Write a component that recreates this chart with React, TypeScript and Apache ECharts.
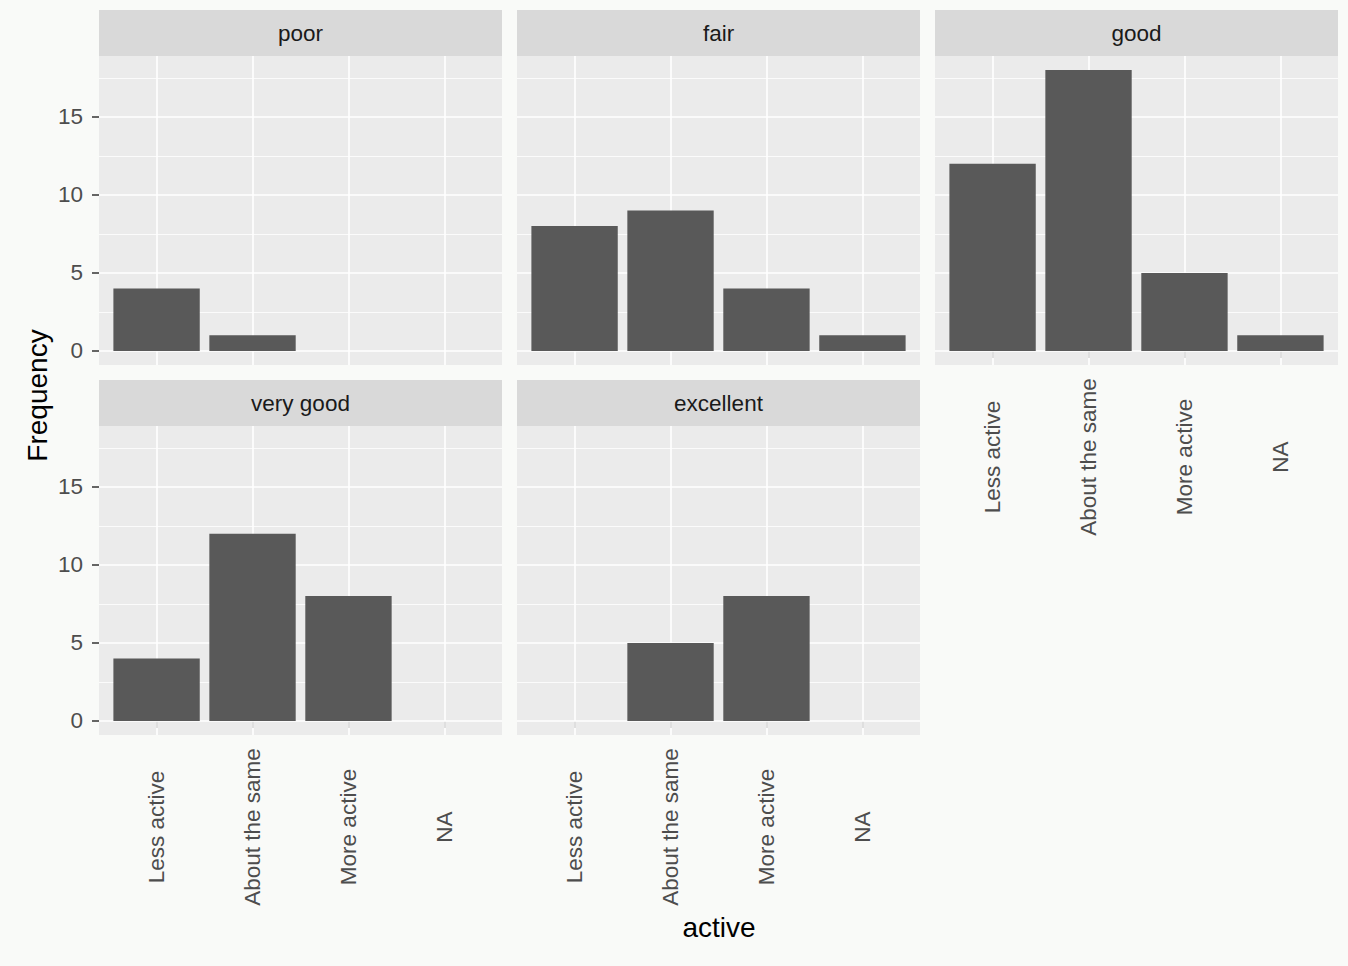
import React, { useEffect, useRef } from 'react';
import * as echarts from 'echarts';

const activityLevels = ['Less active', 'About the same', 'More active', 'NA'];
const healthLevels = ['poor', 'fair', 'good', 'very good', 'excellent'];

// counts per activity level, one array per health facet
const poorCounts = [4, 1, 0, 0];
const fairCounts = [8, 9, 4, 1];
const goodCounts = [12, 18, 5, 1];
const veryGoodCounts = [4, 12, 8, 0];
const excellentCounts = [0, 5, 8, 0];

const yTicks = [0, 5, 10, 15];
const yMinorTicks = [2.5, 7.5, 12.5, 17.5];

const panelCounts = [poorCounts, fairCounts, goodCounts, veryGoodCounts, excellentCounts];

// facet layout (pixels)
const colLeft = [99, 517, 935];
const rowStripTop = [10, 380];
const panelW = 403;
const stripH = 46;
const panelH = 309;

// ggplot-style expanded ranges
const xMin = 0.4;
const xMax = 4.6;
const yMin = -0.9;
const yMax = 18.9;

const FONT = '"Liberation Sans", Arial, sans-serif';

const App: React.FC = () => {
  const chartRef = useRef<HTMLDivElement>(null);

  useEffect(() => {
    if (!chartRef.current) return;
    const chart = echarts.init(chartRef.current, null, { renderer: 'svg' });

    const xPositions = activityLevels.map((_, k) => k + 1);
    const barWidth = (0.9 * panelW) / (xMax - xMin);

    const grids: any[] = [];
    const xAxes: any[] = [];
    const yAxes: any[] = [];
    const series: any[] = [];
    const graphics: any[] = [];

    healthLevels.forEach((name, i) => {
      const col = i % 3;
      const row = Math.floor(i / 3);
      const left = colLeft[col];
      const stripTop = rowStripTop[row];
      const top = stripTop + stripH;
      const showX = i >= 2; // facets with nothing below them
      const showY = col === 0;

      grids.push({
        left,
        top,
        width: panelW,
        height: panelH,
        show: true,
        backgroundColor: '#EBEBEB',
        borderWidth: 0,
        containLabel: false,
        outerBoundsMode: 'none'
      });

      xAxes.push({
        gridIndex: i,
        type: 'value',
        min: xMin,
        max: xMax,
        axisLine: { show: false },
        splitLine: { show: false },
        axisTick: {
          show: showX,
          customValues: xPositions,
          length: 7,
          lineStyle: { color: '#333333', width: 1.5 }
        },
        axisLabel: {
          show: showX,
          customValues: xPositions,
          formatter: (v: number) => activityLevels[Math.round(v) - 1] ?? '',
          rotate: 90,
          align: 'center',
          verticalAlign: 'middle',
          margin: 92,
          fontSize: 22.5,
          color: '#4D4D4D'
        }
      });

      yAxes.push({
        gridIndex: i,
        type: 'value',
        min: yMin,
        max: yMax,
        axisLine: { show: false },
        splitLine: { show: false },
        axisTick: {
          show: showY,
          customValues: yTicks,
          length: 7,
          lineStyle: { color: '#333333', width: 1.5 }
        },
        axisLabel: {
          show: showY,
          customValues: yTicks,
          margin: 16,
          fontSize: 22.5,
          color: '#4D4D4D'
        }
      });

      series.push({
        type: 'bar',
        xAxisIndex: i,
        yAxisIndex: i,
        z: 2,
        barWidth,
        itemStyle: { color: '#595959' },
        data: panelCounts[i].map((c, k) => [k + 1, c]).filter((d) => d[1] > 0),
        markLine: {
          silent: true,
          symbol: 'none',
          z: 1,
          animation: false,
          label: { show: false },
          emphasis: { disabled: true },
          lineStyle: { color: '#FFFFFF', type: 'solid', width: 1.6 },
          data: [
            ...yMinorTicks.map((v) => ({ yAxis: v, lineStyle: { color: '#FFFFFF', type: 'solid', width: 0.8 } })),
            ...yTicks.map((v) => ({ yAxis: v })),
            ...xPositions.map((v) => ({ xAxis: v }))
          ]
        }
      });

      // facet strip
      graphics.push({
        type: 'rect',
        silent: true,
        shape: { x: left, y: stripTop, width: panelW, height: stripH },
        style: { fill: '#D9D9D9' }
      });
      graphics.push({
        type: 'text',
        silent: true,
        x: left + panelW / 2,
        y: stripTop + stripH / 2,
        style: {
          text: name,
          fill: '#1A1A1A',
          fontSize: 22.5,
          fontFamily: FONT,
          align: 'center',
          verticalAlign: 'middle'
        }
      });
    });

    // axis titles
    graphics.push({
      type: 'text',
      silent: true,
      x: 37,
      y: 395.5,
      rotation: Math.PI / 2,
      style: {
        text: 'Frequency',
        fill: '#000000',
        fontSize: 28,
        fontFamily: FONT,
        align: 'center',
        verticalAlign: 'middle'
      }
    });
    graphics.push({
      type: 'text',
      silent: true,
      x: 719,
      y: 927,
      style: {
        text: 'active',
        fill: '#000000',
        fontSize: 28,
        fontFamily: FONT,
        align: 'center',
        verticalAlign: 'middle'
      }
    });

    chart.setOption({
      animation: false,
      backgroundColor: '#F9FAF8',
      textStyle: { fontFamily: FONT },
      grid: grids,
      xAxis: xAxes,
      yAxis: yAxes,
      series,
      graphic: graphics
    });

    return () => {
      chart.dispose();
    };
  }, []);

  return (
    <div
      ref={chartRef}
      style={{ position: 'fixed', left: 0, top: 0, width: '1348px', height: '966px' }}
    />
  );
};

export default App;
